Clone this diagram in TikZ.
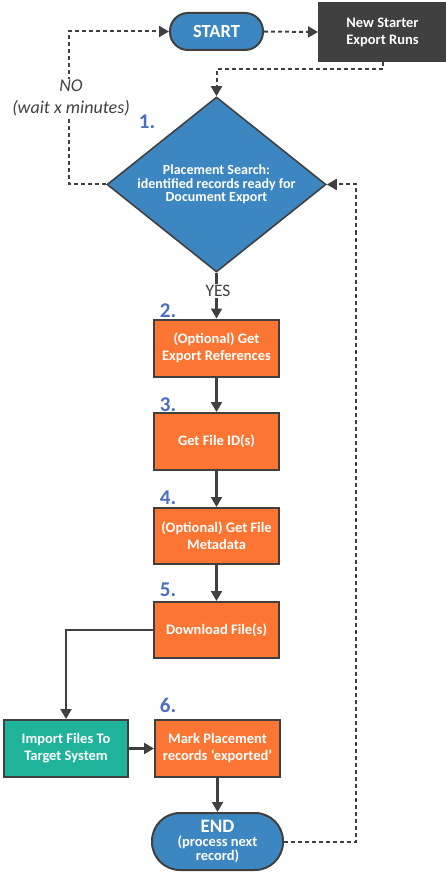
\documentclass[tikz,border=0pt]{standalone}
\usepackage{fontspec}
\setmainfont{Carlito}
\usepackage{tikz}
\usepackage{xcolor}
\usetikzlibrary{shapes.geometric,arrows.meta}
\definecolor{flow-blue}{HTML}{3C87C2}
\definecolor{flow-orange}{HTML}{FD7532}
\definecolor{flow-teal}{HTML}{1FB39B}
\definecolor{flow-dark}{HTML}{404040}
\definecolor{num-blue}{HTML}{4A6EC0}
\tikzset{
    step-box/.style = {draw=flow-dark, fill=flow-orange, line width=2pt, rectangle, text=white, align=center, font=\bfseries\fontsize{14.5}{17}\selectfont, minimum width=125pt, minimum height=57pt, inner sep=2pt},
    start-end/.style = {draw=flow-dark, fill=flow-blue, line width=2pt, rectangle, rounded corners=18pt, text=white, align=center, font=\bfseries\fontsize{18.5}{20}\selectfont},
    decision-box/.style = {draw=flow-dark, fill=flow-blue, line width=1.6pt, diamond, aspect=1.25, inner sep=0pt, minimum width=219pt, minimum height=175pt, text=white, align=center, font=\bfseries\fontsize{14}{13.5}\selectfont},
    step-num/.style = {text=num-blue, font=\bfseries\fontsize{21}{21}\selectfont, inner sep=0pt},
    flow-line/.style = {draw=flow-dark, line width=2.2pt, -{Triangle[length=10pt,width=11pt]}},
    dash-line/.style = {draw=flow-dark, line width=2pt, dash pattern=on 4pt off 3pt, -{Triangle[length=10pt,width=11pt]}},
}
\begin{document}
\begin{tikzpicture}[x=1pt,y=-1pt]
\useasboundingbox (0,0) rectangle (446,874);
\node[start-end, minimum width=93pt, minimum height=37pt] (start) at (216.5,31.5) {START};
\node[step-box, fill=flow-dark, minimum width=127pt, minimum height=58pt] (newstarter) at (382.5,32) {New Starter\\Export Runs};
\node[decision-box] (search) at (216.5,184.5) {Placement Search:\\identified records ready for\\Document Export};
\node[step-box] (exportref) at (216.5,348) {(Optional) Get\\Export References};
\node[step-box] (fileid) at (216.5,441.5) {Get File ID(s)};
\node[step-box, minimum height=56pt] (metadata) at (216.5,536) {(Optional) Get File\\Metadata};
\node[step-box, minimum height=56pt] (download) at (216.5,630) {Download File(s)};
\node[step-box] (markdone) at (217.5,748.5) {Mark Placement\\records `exported'};
\node[step-box, fill=flow-teal, minimum width=124pt] (import) at (66,748.5) {Import Files To\\Target System};
\node[start-end, rounded corners=28pt, minimum width=131pt, minimum height=57pt, font=\bfseries\fontsize{14.5}{14}\selectfont] (end) at (217.5,841.5) {{\fontsize{19}{18}\selectfont END}\\(process next\\record)};

\node[step-num] (num1) at (147,122) {1.};
\node[step-num] (num2) at (168,311) {2.};
\node[step-num] (num3) at (168,405) {3.};
\node[step-num] (num4) at (168,498) {4.};
\node[step-num] (num5) at (168,590) {5.};
\node[step-num] (num6) at (168,705) {6.};

\draw[dash-line] (start.east) -- (newstarter.west);
\draw[dash-line] (newstarter.south) -- ++(0,7) -| (search.north);
\draw[dash-line] (search.west) -- ++(-37,0) |- (start.west);
\draw[dash-line] (end.east) -- ++(72,0) |- (search.east);
\node[fill=white, text=flow-dark, align=center, inner sep=1pt, font=\itshape\fontsize{18}{22}\selectfont] (nolabel) at (71,98) {NO\\(wait x minutes)};

\draw[flow-line] (search.south) -- (exportref.north);
\node[fill=white, text=flow-dark, inner sep=1pt, font=\fontsize{17.5}{17}\selectfont] (yeslabel) at (218,291) {YES};
\draw[flow-line] (exportref.south) -- (fileid.north);
\draw[flow-line] (fileid.south) -- (metadata.north);
\draw[flow-line] (metadata.south) -- (download.north);
\draw[flow-line] (download.west) -| (import.north);
\draw[flow-line] (import.east) -- (markdone.west);
\draw[flow-line] (markdone.south) -- (end.north);
\end{tikzpicture}
\end{document}
